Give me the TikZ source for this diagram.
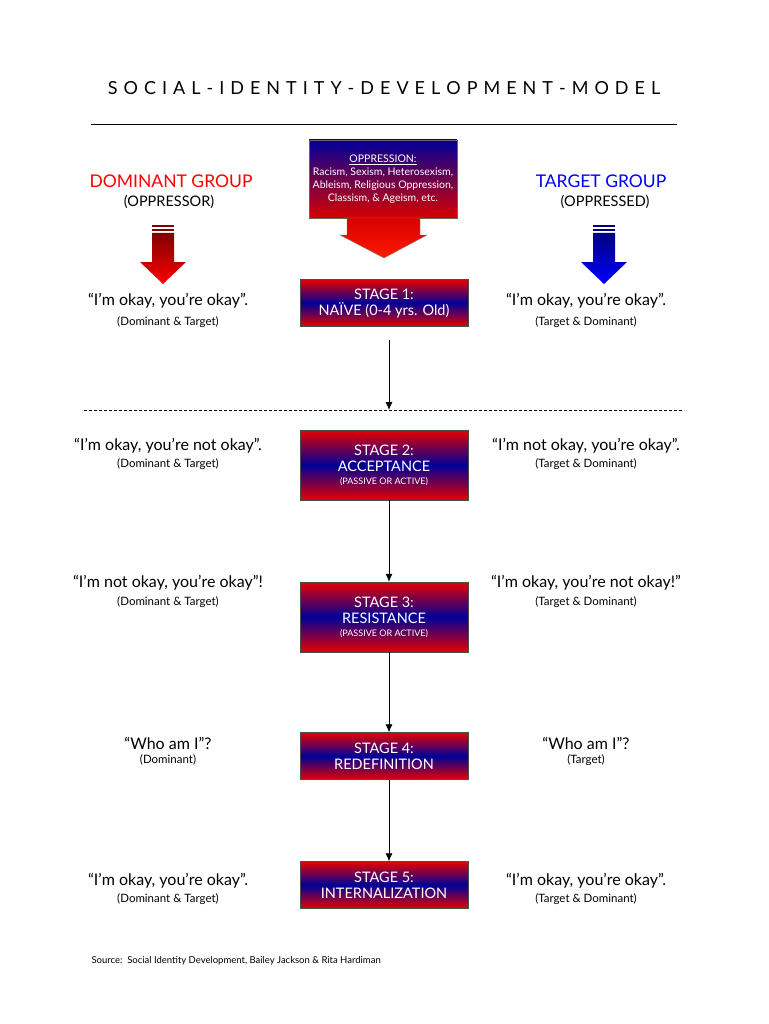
\documentclass[tikz,border=0pt]{standalone}
\usepackage{fontspec}
\setmainfont{Lato}
\usetikzlibrary{arrows.meta}
\begin{document}
\begin{tikzpicture}[x=1pt,y=-1pt,
  stagebox/.style={draw=black!70,minimum width=168pt,align=center,text=white,
    top color=red!90!black,bottom color=red!90!black,middle color=blue!60!black,inner sep=1pt,font=\fontsize{14.5}{16}\selectfont},
  quote/.style={align=center,font=\fontsize{16}{18}\selectfont},
  sub/.style={font=\fontsize{11.5}{13}\selectfont},
  conn/.style={-{Latex[length=8pt,width=7pt]},thick}]
\useasboundingbox (0,0) rectangle (768,1024);
\node (title) at (384,88) {\fontsize{18}{20}\selectfont S\hspace{6pt}O\hspace{6pt}C\hspace{6pt}I\hspace{6pt}A\hspace{6pt}L\hspace{6pt}-\hspace{6pt}I\hspace{6pt}D\hspace{6pt}E\hspace{6pt}N\hspace{6pt}T\hspace{6pt}I\hspace{6pt}T\hspace{6pt}Y\hspace{6pt}-\hspace{6pt}D\hspace{6pt}E\hspace{6pt}V\hspace{6pt}E\hspace{6pt}L\hspace{6pt}O\hspace{6pt}P\hspace{6pt}M\hspace{6pt}E\hspace{6pt}N\hspace{6pt}T\hspace{6pt}-\hspace{6pt}M\hspace{6pt}O\hspace{6pt}D\hspace{6pt}E\hspace{6pt}L};
\draw (91,124) -- (677,124);
% oppression box
\node[minimum width=148pt,minimum height=78pt,inner sep=1pt,draw=black!60,top color=blue!60!black,bottom color=red!85!black,text=white,align=center,font=\fontsize{10.5}{13}\selectfont] (opp) at (383,179)
 {\underline{OPPRESSION:}\\Racism, Sexism, Heterosexism,\\Ableism, Religious Oppression,\\Classism, \& Ageism, etc.};
\shade[top color=red!85!black,bottom color=red!80!orange,draw=black!50]
 (347,218) -- (420,218) -- (420,235) -- (427,235) -- (384,258) -- (340,235) -- (347,235) -- cycle;
% groups
\node[text=red,font=\fontsize{17.5}{20}\selectfont] (dg) at (171,181) {DOMINANT GROUP};
\node[font=\fontsize{14.5}{16}\selectfont] (dgo) at (169,202) {(OPPRESSOR)};
\node[text=blue,font=\fontsize{17.5}{20}\selectfont] (tg) at (601,181) {TARGET GROUP};
\node[font=\fontsize{14.5}{16}\selectfont] (tgo) at (605,202) {(OPPRESSED)};
\foreach \cx/\c in {163/red,604/blue}{
 \fill[\c!50!black] (\cx-11,225) rectangle (\cx+11,227);
 \fill[\c!50!black] (\cx-11,229) rectangle (\cx+11,231);
 \shade[top color=\c!50!black,bottom color=\c] (\cx-11,233) -- (\cx+11,233) -- (\cx+11,262) -- (\cx+23,262) -- (\cx,284) -- (\cx-23,262) -- (\cx-11,262) -- cycle;
}
% stages
\node[stagebox,minimum height=47pt] (s1) at (384,303) {STAGE 1:\\NAÏVE (0-4 yrs. Old)};
\node[stagebox,minimum height=70pt] (s2) at (384,465) {STAGE 2:\\ACCEPTANCE\\[-3pt]{\fontsize{9}{10}\selectfont(PASSIVE OR ACTIVE)}};
\node[stagebox,minimum height=70pt] (s3) at (384,617) {STAGE 3:\\RESISTANCE\\[-3pt]{\fontsize{9}{10}\selectfont(PASSIVE OR ACTIVE)}};
\node[stagebox,minimum height=47pt] (s4) at (384,756) {STAGE 4:\\REDEFINITION};
\node[stagebox,minimum height=47pt] (s5) at (384,885) {STAGE 5:\\INTERNALIZATION};
\coordinate (a1) at (389,340);
\coordinate (a2) at (389,410);
\draw[conn] (a1) -- (a2);
\draw[conn] ([xshift=5pt]s2.south) -- ([xshift=5pt]s3.north);
\draw[conn] ([xshift=5pt]s3.south) -- ([xshift=5pt]s4.north);
\draw[conn] ([xshift=5pt]s4.south) -- ([xshift=5pt]s5.north);
\draw[dash pattern=on 3pt off 2pt] (84,410) -- (684,410);
% quotes
\foreach \qy/\sy/\lq/\ls/\rq/\rs in {
 301/322/{“I'm okay, you're okay”.}/{(Dominant \& Target)}/{“I'm okay, you're okay”.}/{(Target \& Dominant)},
 446/464/{“I'm okay, you're not okay”.}/{(Dominant \& Target)}/{“I'm not okay, you're okay”.}/{(Target \& Dominant)},
 583/602/{“I'm not okay, you're okay”!}/{(Dominant \& Target)}/{“I'm okay, you're not okay!”}/{(Target \& Dominant)},
 743/760/{“Who am I”?}/{(Dominant)}/{“Who am I”?}/{(Target)},
 881/899/{“I'm okay, you're okay”.}/{(Dominant \& Target)}/{“I'm okay, you're okay”.}/{(Target \& Dominant)}}{
 \node[quote] at (168,\qy) {\lq};
 \node[sub] at (168,\sy) {\ls};
 \node[quote] at (586,\qy) {\rq};
 \node[sub] at (586,\sy) {\rs};
}
\node[anchor=west,font=\fontsize{9.5}{11}\selectfont] (src) at (88,961) {Source:\ \ Social Identity Development, Bailey Jackson \& Rita Hardiman};
\end{tikzpicture}
\end{document}
